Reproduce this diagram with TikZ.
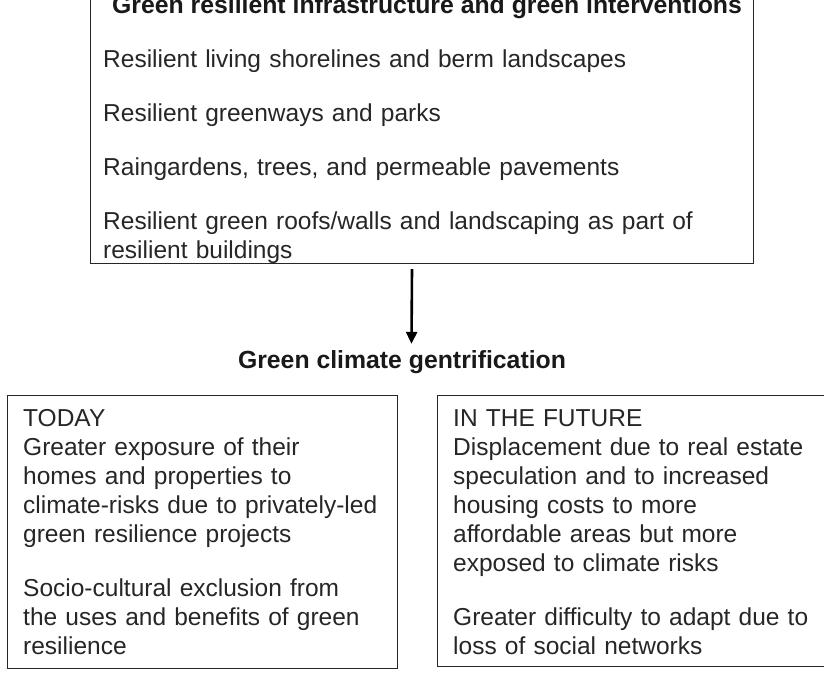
\documentclass[tikz,border=0pt]{standalone}
\usepackage{fontspec}
\setmainfont{Liberation Sans}
\usetikzlibrary{arrows.meta}

\begin{document}
\begin{tikzpicture}[x=1pt,y=1pt,
  box/.style={draw=black!85,line width=1pt,inner sep=0pt,anchor=north west},
  txt/.style={inner sep=0pt,anchor=base west,align=left,text=black!85,
    font=\fontsize{24.5}{29}\selectfont},
  head/.style={inner sep=0pt,anchor=base,text=black!90,
    font=\fontsize{24.8}{29}\selectfont\bfseries}]
\useasboundingbox (0,0) rectangle (824,-686);

\node[box,anchor=south west,minimum width=663,minimum height=290] (infra) at (90,-264) {};
\node[head] (infrahead) at (427,-13) {Green resilient infrastructure and green interventions};
\node[txt,text width=640] (infratext) at (103,-67) {Resilient living shorelines and berm landscapes\\[25pt]
Resilient greenways and parks\\[25pt]
Raingardens, trees, and permeable pavements\\[25pt]
Resilient green roofs/walls and landscaping as part of\\
resilient buildings};

\node[head] (gentri) at (402,-368) {Green climate gentrification};
\draw[line width=2.6pt,-{Triangle[length=12pt,width=11pt]}] ([xshift=-10pt,yshift=-5pt]infra.south) -- ([xshift=9.5pt,yshift=6pt]gentri.north);

\node[box,minimum width=390,minimum height=273] (today) at (7,-395) {};
\node[txt,text width=380] (todaytext) at (23,-426) {TODAY\\
Greater exposure of their\\
homes and properties to\\
climate-risks due to privately-led\\
green resilience projects\\[25pt]
Socio-cultural exclusion from\\
the uses and benefits of green\\
resilience};

\node[box,minimum width=400,minimum height=271] (future) at (437,-395) {};
\node[txt,text width=380] (futuretext) at (453,-426) {IN THE FUTURE\\
Displacement due to real estate\\
speculation and to increased\\
housing costs to more\\
affordable areas but more\\
exposed to climate risks\\[25pt]
Greater difficulty to adapt due to\\
loss of social networks};

\end{tikzpicture}
\end{document}
